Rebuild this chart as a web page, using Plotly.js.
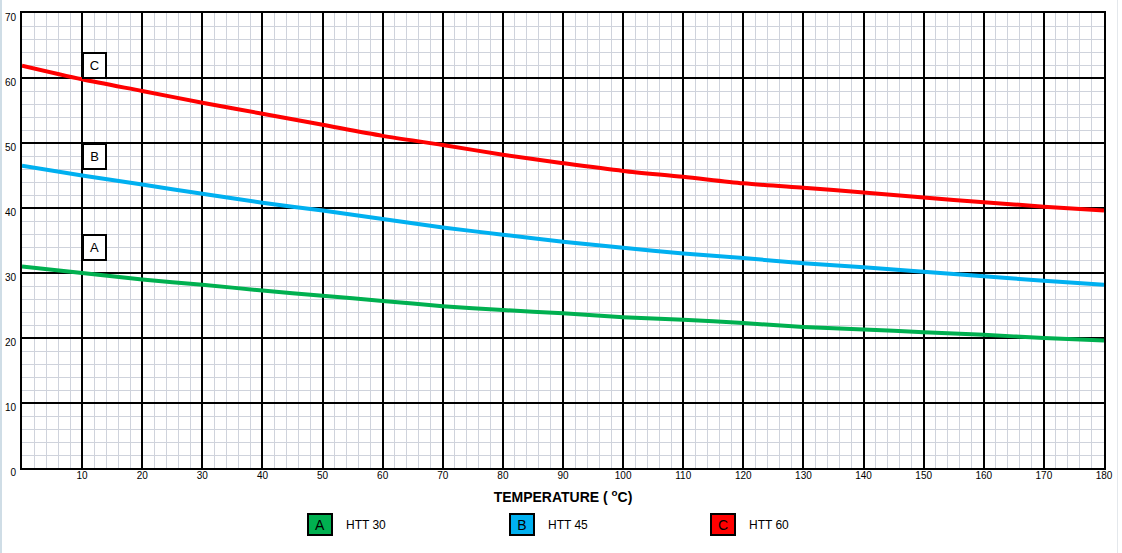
<!DOCTYPE html>
<html>
<head>
<meta charset="utf-8">
<script src="https://cdn.plot.ly/plotly-3.0.1.min.js"></script>
<style>
  html, body { margin: 0; padding: 0; background: #ffffff; }
  #chart { width: 1122px; height: 553px; position: absolute; left: 0; top: 0; }
  #edgeL { position: absolute; left: 0; top: 0; width: 2px; height: 553px; background: #cfdde6; }
  #edgeR { position: absolute; left: 1117px; top: 0; width: 1px; height: 553px; background: #e4e8ec; }
</style>
</head>
<body>
<div id="chart"></div>
<div id="edgeL"></div>
<div id="edgeR"></div>
<script>
// Temperature (°C)
const temperature = [0, 10, 20, 30, 40, 50, 60, 70, 80, 90, 100, 110, 120, 130, 140, 150, 160, 170, 180];
// Series values
const htt30 = [31.0, 30.0, 29.0, 28.2, 27.3, 26.5, 25.7, 24.9, 24.3, 23.8, 23.2, 22.8, 22.3, 21.7, 21.3, 20.9, 20.5, 20.0, 19.6];
const htt45 = [46.5, 45.0, 43.6, 42.2, 40.8, 39.6, 38.3, 37.0, 35.9, 34.8, 33.9, 33.0, 32.3, 31.5, 30.9, 30.2, 29.5, 28.8, 28.2];
const htt60 = [61.9, 59.8, 58.0, 56.2, 54.5, 52.8, 51.1, 49.7, 48.2, 46.9, 45.7, 44.8, 43.8, 43.1, 42.4, 41.6, 40.9, 40.2, 39.6];

const seriesNames = ["HTT 30", "HTT 45", "HTT 60"];
const seriesLetters = ["A", "B", "C"];
const seriesColors = ["#00b050", "#00b0f0", "#ff0000"];
const seriesValues = [htt30, htt45, htt60];

// in-plot letter label positions (data units)
const labelX = [12, 12, 12];
const labelY = [34, 48, 62];

const xTicks = [10, 20, 30, 40, 50, 60, 70, 80, 90, 100, 110, 120, 130, 140, 150, 160, 170, 180];
const yTicks = [0, 10, 20, 30, 40, 50, 60, 70];

const FONT = "Liberation Sans, Arial, sans-serif";

const traces = seriesValues.map((vals, i) => ({
  type: "scatter",
  mode: "lines",
  x: temperature,
  y: vals,
  name: seriesNames[i],
  line: { color: seriesColors[i], width: 4, shape: "spline", smoothing: 0.8 },
  hoverinfo: "x+y+name",
  showlegend: false
}));

const annotations = [];
// letter boxes inside the plot
seriesLetters.forEach((L, i) => {
  annotations.push({
    x: labelX[i], y: labelY[i], xref: "x", yref: "y",
    text: L, showarrow: false,
    font: { family: FONT, size: 13, color: "#000" },
    bgcolor: "#ffffff", bordercolor: "#000000", borderwidth: 2,
    width: 21, height: 23, borderpad: 0,
    xanchor: "center", yanchor: "middle"
  });
});
// custom legend below the axis title (pixel centres of the boxes)
const legendBoxX = [320, 522, 723];
seriesLetters.forEach((L, i) => {
  const px = (legendBoxX[i] - 22) / 1082;
  const py = (468 - 524) / 455;
  annotations.push({
    x: px, y: py, xref: "paper", yref: "paper",
    text: L, showarrow: false,
    font: { family: FONT, size: 14, color: "#000" },
    bgcolor: seriesColors[i], bordercolor: "#000000", borderwidth: 2,
    width: 22, height: 19, borderpad: 0,
    xanchor: "center", yanchor: "middle"
  });
  annotations.push({
    x: (legendBoxX[i] + 24 - 22) / 1082, y: (468 - 525) / 455, xref: "paper", yref: "paper",
    text: seriesNames[i], showarrow: false,
    font: { family: FONT, size: 12, color: "#000" },
    xanchor: "left", yanchor: "middle"
  });
});

const layout = {
  width: 1122,
  height: 553,
  margin: { l: 22, r: 18, t: 13, b: 85, pad: 0 },
  paper_bgcolor: "rgba(0,0,0,0)",
  plot_bgcolor: "#ffffff",
  font: { family: FONT, size: 10, color: "#000" },
  showlegend: false,
  xaxis: {
    range: [0, 180],
    tickmode: "array",
    tickvals: xTicks,
    ticktext: xTicks.map(String),
    showgrid: true,
    gridcolor: "#000000",
    gridwidth: 2,
    zeroline: false,
    showline: true,
    linecolor: "#000000",
    linewidth: 2,
    mirror: true,
    ticks: "",
    ticklabelstandoff: -3,
    tickfont: { family: FONT, size: 10, color: "#000" },
    minor: { dtick: 2, showgrid: true, gridcolor: "#cfd3dc", gridwidth: 1 },
    title: {
      text: "<b>TEMPERATURE ( <sup>o</sup>C)</b>",
      font: { family: FONT, size: 14, color: "#000" },
      standoff: 12
    },
    fixedrange: true
  },
  yaxis: {
    range: [0, 70],
    tickmode: "array",
    tickvals: yTicks,
    ticktext: yTicks.map(String),
    showgrid: true,
    gridcolor: "#000000",
    gridwidth: 2,
    zeroline: false,
    showline: true,
    linecolor: "#000000",
    linewidth: 2,
    mirror: true,
    ticks: "",
    ticklabelstandoff: 2,
    ticklabelshift: 4,
    tickfont: { family: FONT, size: 10, color: "#000" },
    minor: { dtick: 2, showgrid: true, gridcolor: "#cfd3dc", gridwidth: 1 },
    fixedrange: true
  },
  annotations: annotations
};

Plotly.newPlot("chart", traces, layout, { displayModeBar: false });
</script>
</body>
</html>
